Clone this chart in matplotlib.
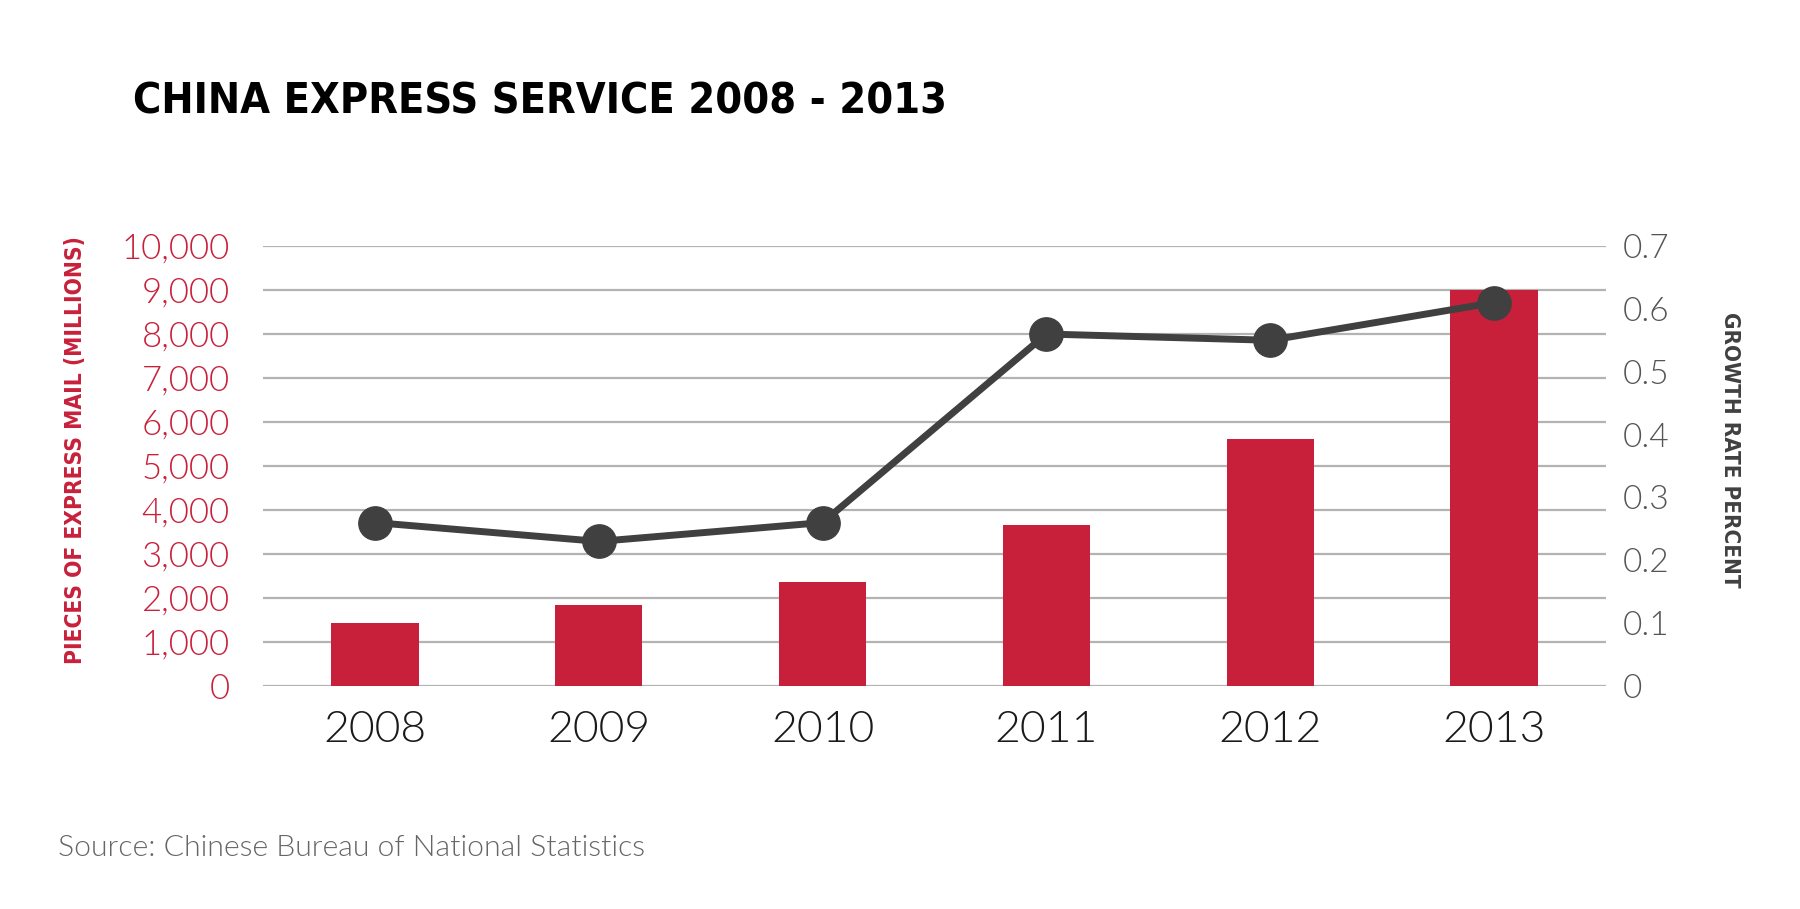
import os
import matplotlib.pyplot as plt
from matplotlib import font_manager as fm
import numpy as np

years = ['2008', '2009', '2010', '2011', '2012', '2013']
pieces = [1440, 1850, 2370, 3670, 5610, 9010]  # millions
growth = [0.26, 0.23, 0.26, 0.56, 0.55, 0.61]

left_ticks = [0, 1000, 2000, 3000, 4000, 5000, 6000, 7000, 8000, 9000, 10000]
right_ticks = [0, 0.1, 0.2, 0.3, 0.4, 0.5, 0.6, 0.7]

RED = '#c8203a'
DARK = '#404040'
GRID = '#b3b3b3'


def find_font(names, fallback):
    # first installed file whose name matches, else a plain properties fallback
    files = {os.path.basename(f.fname).split('.')[0]: f.fname for f in fm.fontManager.ttflist}
    for n in names:
        if n in files:
            return fm.FontProperties(fname=files[n])
    return fm.FontProperties(**fallback)


cond = find_font(['NotoSans-ExtraCondensedBold', 'NotoSans-CondensedBold', 'DejaVuSansCondensed-Bold'],
                 dict(family='DejaVu Sans', stretch='condensed', weight='bold'))
light = find_font(['Lato-Light', 'Lato-Regular'], dict(family='Lato'))

fig = plt.figure(figsize=(18, 9.09), dpi=100)
ax = fig.add_axes([263 / 1800, 1 - 686 / 909, (1606 - 263) / 1800, (686 - 246) / 909])

x = np.arange(len(years))
ax.bar(x, pieces, width=0.39, color=RED, zorder=3)
ax.set_xlim(-0.5, len(years) - 0.5)
ax.set_ylim(0, 10000)
ax.set_yticks(left_ticks)
ax.set_yticklabels([f'{v:,}' for v in left_ticks])
ax.set_xticks(x)
ax.set_xticklabels(years)
ax.grid(axis='y', color=GRID, linewidth=1.6, zorder=0)
ax.set_axisbelow(True)
for s in ax.spines.values():
    s.set_visible(False)
ax.tick_params(axis='y', length=0, pad=24)
ax.tick_params(axis='x', length=0, pad=18)
for lab in ax.get_yticklabels():
    lab.set_fontproperties(light)
    lab.set_fontsize(25)
    lab.set_color(RED)
for lab in ax.get_xticklabels():
    lab.set_fontproperties(light)
    lab.set_fontsize(32)
    lab.set_color('#1a1a1a')

ax2 = ax.twinx()
ax2.plot(x, growth, color=DARK, linewidth=5, marker='o', markersize=24, zorder=5)
ax2.set_ylim(0, 0.7)
ax2.set_yticks(right_ticks)
ax2.set_yticklabels([f'{v:g}' for v in right_ticks])
for s in ax2.spines.values():
    s.set_visible(False)
ax2.tick_params(axis='y', length=0, pad=12)
for lab in ax2.get_yticklabels():
    lab.set_fontproperties(light)
    lab.set_fontsize(24)
    lab.set_color('#555555')

fig.text(133 / 1800, 1 - 114 / 909, 'CHINA EXPRESS SERVICE 2008 - 2013',
         fontproperties=cond, fontsize=31, color='black', va='baseline', ha='left')
fig.text(76 / 1800, 1 - 450 / 909, 'PIECES OF EXPRESS MAIL (MILLIONS)',
         fontproperties=cond, fontsize=16.3, color=RED, rotation=90, va='center', ha='center')
fig.text(1730 / 1800, 1 - 450 / 909, 'GROWTH RATE PERCENT',
         fontproperties=cond, fontsize=16, color=DARK, rotation=-90, va='center', ha='center')
fig.text(58 / 1800, 1 - 848 / 909, 'Source: Chinese Bureau of National Statistics',
         fontproperties=light, fontsize=21.7, color='#666666', va='center', ha='left')

plt.savefig('out.png', dpi=100)
plt.close()
